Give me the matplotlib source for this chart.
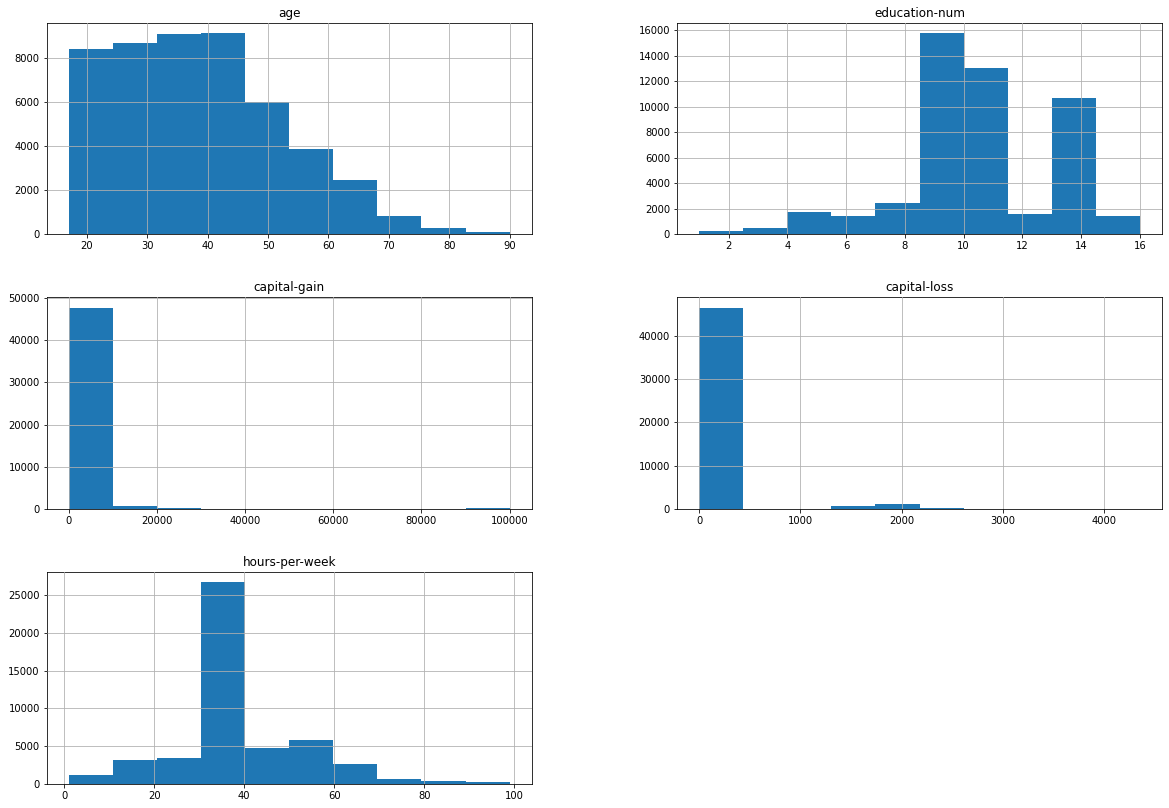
import numpy as np
import matplotlib.pyplot as plt

names = ['age', 'education-num', 'capital-gain', 'capital-loss', 'hours-per-week']
ranges = [(17, 90), (1, 16), (0, 99999), (0, 4356), (1, 99)]
counts = [
    [8400, 8700, 9100, 9150, 6000, 3850, 2450, 800, 280, 100],
    [250, 500, 1750, 1400, 2400, 15800, 13000, 1600, 10700, 1400],
    [47600, 700, 200, 30, 5, 0, 0, 0, 0, 240],
    [46600, 0, 0, 700, 1100, 250, 20, 0, 0, 5],
    [1100, 3200, 3400, 26700, 4700, 5800, 2600, 600, 350, 230],
]

fig, axes = plt.subplots(3, 2, figsize=(1169/72, 808/72), dpi=72)
fig.subplots_adjust(left=0.040, right=0.994, top=0.972, bottom=0.030, wspace=0.30, hspace=0.30)
axes = axes.ravel()

for ax, name, (lo, hi), c in zip(axes, names, ranges, counts):
    edges = np.linspace(lo, hi, 11)
    ax.bar(edges[:-1], c, width=np.diff(edges), align='edge', color='#1f77b4')
    ax.set_title(name)
    ax.grid(True)
    ax.set_axisbelow(False)

axes[2].set_ylim(0, 50100)
axes[5].axis('off')
fig.savefig('out.png', dpi=72)
